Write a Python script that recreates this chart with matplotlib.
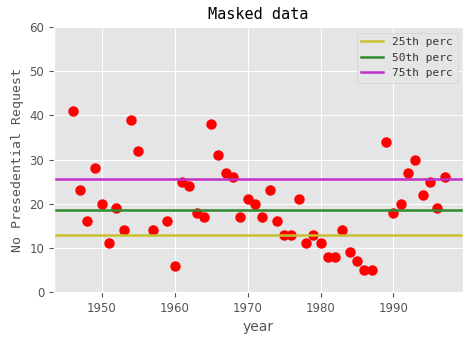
import matplotlib
matplotlib.use('Agg')
import matplotlib.pyplot as plt
import numpy as np

# years with requests (1956, 1958, 1988 are masked out)
years = [1946, 1947, 1948, 1949, 1950, 1951, 1952, 1953, 1954, 1955,
         1957, 1959, 1960, 1961, 1962, 1963, 1964, 1965, 1966, 1967,
         1968, 1969, 1970, 1971, 1972, 1973, 1974, 1975, 1976, 1977,
         1978, 1979, 1980, 1981, 1982, 1983, 1984, 1985, 1986, 1987,
         1989, 1990, 1991, 1992, 1993, 1994, 1995, 1996, 1997]
requests = [41, 23, 16, 28, 20, 11, 19, 14, 39, 32,
            14, 16, 6, 25, 24, 18, 17, 38, 31, 27,
            26, 17, 21, 20, 17, 23, 16, 13, 13, 21,
            11, 13, 11, 8, 8, 14, 9, 7, 5, 5,
            34, 18, 20, 27, 30, 22, 25, 19, 26]

perc_labels = ['25th perc', '50th perc', '75th perc']
perc_values = [13.0, 18.5, 25.5]
perc_colors = ['#c8c030', '#2e8b2e', '#c030c8']

plt.style.use('ggplot')
mono = 'DejaVu Sans Mono'

fig = plt.figure(figsize=(4.74, 3.38), dpi=100)
ax = fig.add_axes([0.114, 0.136, 0.863, 0.784])

ax.plot(years, requests, 'o', color='red', markersize=6.5)
for lab, val, col in zip(perc_labels, perc_values, perc_colors):
    ax.axhline(val, color=col, linewidth=1.8, label=lab)

ax.set_ylim(0, 60)
ax.set_xlim(1943.45, 1999.55)
ax.set_yticks(np.arange(0, 61, 10))
ax.set_xticks([1950, 1960, 1970, 1980, 1990])
ax.tick_params(labelsize=8.5, colors='#555555')

ax.set_title('Masked data', fontsize=11, family=mono, color='black')
ax.set_ylabel('No Presedential Request', fontsize=9.5, family=mono, color='#555555')
ax.set_xlabel('year', fontsize=10, color='#555555')

leg = ax.legend(loc='upper right', prop={'family': mono, 'size': 8})
for t in leg.get_texts():
    t.set_color('#333333')

fig.savefig('out.png', dpi=100)
